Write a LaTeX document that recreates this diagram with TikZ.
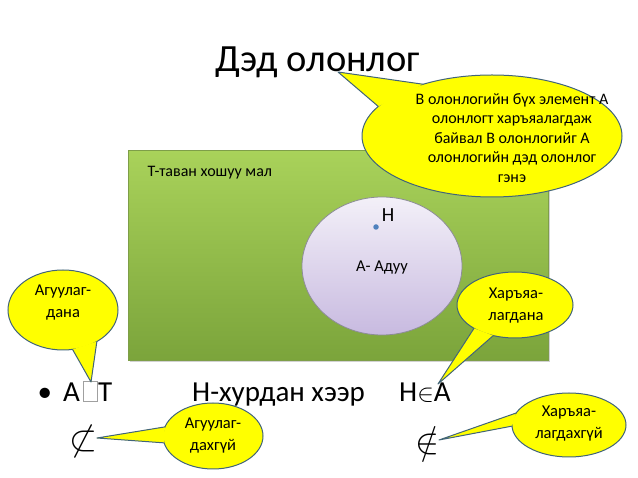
\documentclass[tikz,border=0pt]{standalone}
\usepackage{fontspec}
\usepackage{graphicx}
\setmainfont{Carlito}
\usetikzlibrary{shapes.geometric,calc,shadows}
\definecolor{cfill}{HTML}{FFFF00}
\definecolor{cline}{HTML}{41647A}
\definecolor{gtop}{HTML}{A9D25A}
\definecolor{gbot}{HTML}{7BA43B}
\definecolor{gline}{HTML}{7E9E48}
\definecolor{ltop}{HTML}{F3F0F8}
\definecolor{lbot}{HTML}{C8BAE0}
\definecolor{lline}{HTML}{8C8C96}
\definecolor{dotblue}{HTML}{4F81BD}
\definecolor{boxgray}{HTML}{A0A0A0}
\tikzset{
  bubblestyle/.style={ellipse, fill=cfill, draw=cline, line width=1pt, inner sep=0pt},
  btext/.style={align=center, font=\fontsize{16.5}{22}\selectfont},
  bigtext/.style={font=\fontsize{29}{32}\selectfont},
  symtext/.style={font=\fontsize{24}{26}\selectfont, inner sep=0pt},
}
\newcommand\bubble[7]{%
  \coordinate (#1-b1) at ($(#2)+(#5:#3 and #4)$);
  \coordinate (#1-b2) at ($(#2)+(#6:#3 and #4)$);
  \fill[cfill] (#1-b1) -- (#7) -- (#1-b2) -- cycle;
  \node[bubblestyle, minimum width=2*#3, minimum height=2*#4] (#1) at (#2) {};
  \fill[cfill] (#1-b1) -- (#7) -- (#1-b2) -- cycle;
  \draw[cline, line width=1pt, line join=round] (#1-b1) -- (#7) -- (#1-b2);
}
\begin{document}
\begin{tikzpicture}[x=1pt,y=-1pt]
\fill[white] (0,0) rectangle (638,478);
\useasboundingbox (0,0) rectangle (638,478);

% title
\node[font=\fontsize{38.5}{42}\selectfont] (title) at (318,62) {Дэд олонлог};

% universal set T
\node[draw=gline, line width=0.8pt, top color=gtop, bottom color=gbot, minimum width=420, minimum height=210,
      anchor=north west, inner sep=0pt,
      drop shadow={opacity=0.35, shadow xshift=2pt, shadow yshift=-2pt}] (T) at (128,150) {};
\node[anchor=west, font=\fontsize{16}{18}\selectfont] (Tlab) at (144,173) {Т-таван хошуу мал};

% set A
\node[ellipse, draw=lline, line width=0.8pt, top color=ltop, bottom color=lbot, minimum width=160, minimum height=138] (A) at (382,266) {};
\node[font=\fontsize{16.5}{18}\selectfont] (Alab) at (382,268) {А- Адуу};
\node[circle, fill=dotblue, inner sep=0pt, minimum size=5.5] (Hdot) at (376,227) {};
\node[font=\fontsize{20}{22}\selectfont] (Hlab) at (388,215) {Н};

% bottom line
\node[anchor=base west, bigtext] (bul) at (34,402) {•};
\node[anchor=base west, bigtext, inner xsep=0pt] (Ach) at (63,402) {А};
\node[draw=boxgray, fill=white, line width=0.6pt, minimum width=14, minimum height=20, inner sep=0pt, anchor=south west] (boxc) at (83,402) {};
\node[anchor=base west, bigtext, inner xsep=0pt] (Tch) at (98,402) {Т};
\node[anchor=base west, bigtext, inner xsep=0pt] (Hx) at (192,402) {Н-хурдан хээр};
\node[anchor=base west, bigtext, inner xsep=0pt, inner ysep=0pt] (HinA) at (399,402) {Н$\in$А};
\node[symtext] (nsub) at (84,441) {\scalebox{1.45}{$\not\subset$}};
\node[symtext] (nin) at (428,441) {\scalebox{1.45}{$\notin$}};

% tips
\coordinate (tipTop) at (338,72);
\coordinate (tipBox) at (91,382);
\coordinate (tipIn) at (438,384);
\coordinate (tipNsub) at (97,438);
\coordinate (tipNin) at (439,440);

% callouts
\bubble{cTop}{492,136}{130}{61}{209}{238}{tipTop}
\node[btext, font=\fontsize{16}{19.5}\selectfont] (cTopT) at (512,138) {В олонлогийн бүх элемент А\\олонлогт харъяалагдаж\\байвал В олонлогийг А\\олонлогийн дэд олонлог\\гэнэ};

\bubble{cL}{63,310}{55}{40}{52}{80}{tipBox}
\node[btext] (cLT) at (63,303) {Агуулаг-\\дана};

\bubble{cR}{515,305}{58}{33}{112}{135}{tipIn}
\node[btext] (cRT) at (516,306) {Харъяа-\\лагдана};

\bubble{cBL}{213,436}{50}{33}{168}{196}{tipNsub}
\node[btext] (cBLT) at (213,436) {Агуулаг-\\дахгүй};

\bubble{cBR}{569,425}{57}{32}{178}{202}{tipNin}
\node[btext] (cBRT) at (569,424) {Харъяа-\\лагдахгүй};
\end{tikzpicture}
\end{document}
